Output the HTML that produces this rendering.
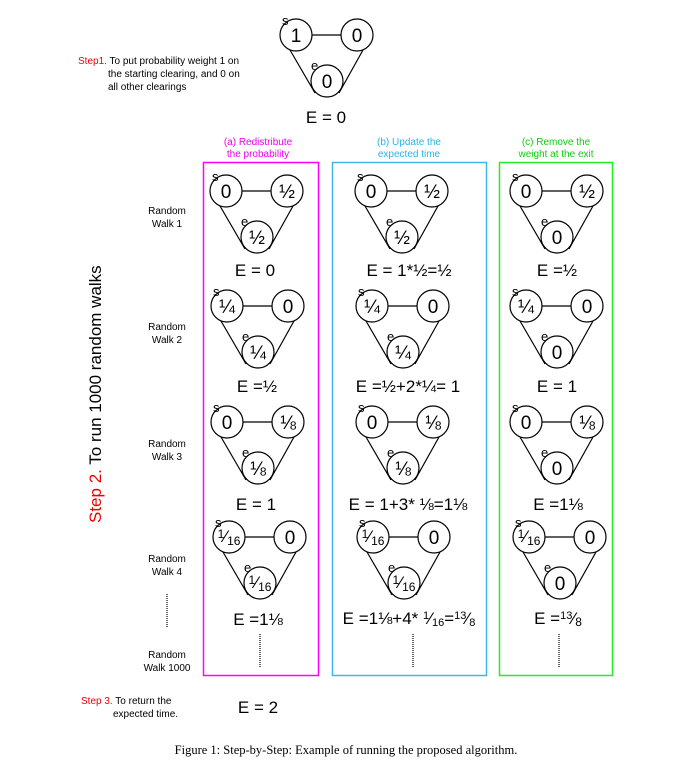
<!DOCTYPE html>
<html><head><meta charset="utf-8"><style>
html,body{margin:0;padding:0;background:#fff;}
svg{display:block;font-family:"Liberation Sans","DejaVu Sans",sans-serif;}
.n{fill:#fff;stroke:#000;stroke-width:1.2}
.l{stroke:#000;stroke-width:1.2;fill:none}
.v{font-size:19px;text-anchor:middle}
.lab{font-size:13px}
.E{font-size:17px;text-anchor:middle}
.s{font-size:10px}
</style></head><body>
<svg width="698" height="773" viewBox="0 0 698 773" xmlns="http://www.w3.org/2000/svg">
<defs>
<g id="g">
<line class="l" x1="16" y1="0" x2="45" y2="0"/>
<line class="l" x1="-6" y1="15" x2="19" y2="58"/>
<line class="l" x1="67" y1="15" x2="43" y2="58"/>
<circle class="n" cx="0" cy="0" r="16"/>
<circle class="n" cx="61" cy="0" r="16"/>
<circle class="n" cx="31" cy="46" r="16"/>
<text class="lab" x="-14" y="-10">s</text>
<text class="lab" x="15" y="35">e</text>
</g>
</defs>

<!-- Step 1 -->
<text class="s" x="78" y="64"><tspan fill="#e00">Step1.</tspan> To put probability weight 1 on</text>
<text class="s" x="108" y="77">the starting clearing, and 0 on</text>
<text class="s" x="108" y="90">all other clearings</text>
<g transform="translate(296,35)"><use href="#g"/>
<text class="v" x="0" y="7">1</text><text class="v" x="61" y="7">0</text><text class="v" x="31" y="53">0</text></g>
<text class="E" x="326" y="123">E = 0</text>

<!-- headers -->
<text class="s" fill="#e0e" text-anchor="middle" x="258" y="145">(a) Redistribute</text>
<text class="s" fill="#e0e" text-anchor="middle" x="258" y="157">the probability</text>
<text class="s" fill="#29b5e8" text-anchor="middle" x="409" y="145">(b) Update the</text>
<text class="s" fill="#29b5e8" text-anchor="middle" x="409" y="157">expected time</text>
<text class="s" fill="#1c1" text-anchor="middle" x="556" y="145">(c) Remove the</text>
<text class="s" fill="#1c1" text-anchor="middle" x="556" y="157">weight at the exit</text>

<rect x="203.5" y="162.5" width="115" height="513" fill="none" stroke="#f0f" stroke-width="1.5"/>
<rect x="332.5" y="162.5" width="154" height="513" fill="none" stroke="#3bb9ec" stroke-width="1.5"/>
<rect x="499.5" y="162.5" width="113" height="513" fill="none" stroke="#2e2" stroke-width="1.5"/>

<!-- Step 2 vertical -->
<text x="101" y="523" transform="rotate(-90 101 523)" font-size="17"><tspan fill="#e00">Step 2.</tspan> To run 1000 random walks</text>

<g class="s" text-anchor="middle">
<text x="167" y="214">Random</text><text x="167" y="227">Walk 1</text>
<text x="167" y="330">Random</text><text x="167" y="343">Walk 2</text>
<text x="167" y="447">Random</text><text x="167" y="460">Walk 3</text>
<text x="167" y="562">Random</text><text x="167" y="575">Walk 4</text>
<text x="167" y="658">Random</text><text x="167" y="671">Walk 1000</text>
</g>
<line x1="167" y1="594" x2="167" y2="628" stroke="#000" stroke-width="1.2" stroke-dasharray="1 1"/>

<!-- Walk 1 -->
<g transform="translate(226,191)"><use href="#g"/><text class="v" x="0" y="7">0</text><text class="v" x="61" y="7">½</text><text class="v" x="31" y="53">½</text></g>
<g transform="translate(371,191)"><use href="#g"/><text class="v" x="0" y="7">0</text><text class="v" x="61" y="7">½</text><text class="v" x="31" y="53">½</text></g>
<g transform="translate(526,191)"><use href="#g"/><text class="v" x="0" y="7">0</text><text class="v" x="61" y="7">½</text><text class="v" x="31" y="53">0</text></g>
<text class="E" x="255" y="276">E = 0</text>
<text class="E" x="409" y="276">E = 1*½=½</text>
<text class="E" x="557" y="276">E =½</text>

<!-- Walk 2 -->
<g transform="translate(227,306)"><use href="#g"/><text class="v" x="0" y="7">¼</text><text class="v" x="61" y="7">0</text><text class="v" x="31" y="53">¼</text></g>
<g transform="translate(372,306)"><use href="#g"/><text class="v" x="0" y="7">¼</text><text class="v" x="61" y="7">0</text><text class="v" x="31" y="53">¼</text></g>
<g transform="translate(526,306)"><use href="#g"/><text class="v" x="0" y="7">¼</text><text class="v" x="61" y="7">0</text><text class="v" x="31" y="53">0</text></g>
<text class="E" x="257" y="392">E =½</text>
<text class="E" x="408" y="392">E =½+2*¼= 1</text>
<text class="E" x="557" y="392">E = 1</text>

<!-- Walk 3 -->
<g transform="translate(227,422)"><use href="#g"/><text class="v" x="0" y="7">0</text><text class="v" x="61" y="7">⅛</text><text class="v" x="31" y="53">⅛</text></g>
<g transform="translate(372,422)"><use href="#g"/><text class="v" x="0" y="7">0</text><text class="v" x="61" y="7">⅛</text><text class="v" x="31" y="53">⅛</text></g>
<g transform="translate(526,422)"><use href="#g"/><text class="v" x="0" y="7">0</text><text class="v" x="61" y="7">⅛</text><text class="v" x="31" y="53">0</text></g>
<text class="E" x="256" y="510">E = 1</text>
<text class="E" x="408" y="510">E = 1+3* ⅛=1⅛</text>
<text class="E" x="558" y="510">E =1⅛</text>

<!-- Walk 4 -->
<g transform="translate(229,537)"><use href="#g"/>
<text class="v" x="0" y="5"><tspan font-size="12" dy="-4">1</tspan><tspan font-size="17" dy="4">⁄</tspan><tspan font-size="12" dy="3">16</tspan></text>
<text class="v" x="61" y="7">0</text>
<text class="v" x="31" y="51"><tspan font-size="12" dy="-4">1</tspan><tspan font-size="17" dy="4">⁄</tspan><tspan font-size="12" dy="3">16</tspan></text></g>
<g transform="translate(373,537)"><use href="#g"/>
<text class="v" x="0" y="5"><tspan font-size="12" dy="-4">1</tspan><tspan font-size="17" dy="4">⁄</tspan><tspan font-size="12" dy="3">16</tspan></text>
<text class="v" x="61" y="7">0</text>
<text class="v" x="31" y="51"><tspan font-size="12" dy="-4">1</tspan><tspan font-size="17" dy="4">⁄</tspan><tspan font-size="12" dy="3">16</tspan></text></g>
<g transform="translate(529,537)"><use href="#g"/>
<text class="v" x="0" y="5"><tspan font-size="12" dy="-4">1</tspan><tspan font-size="17" dy="4">⁄</tspan><tspan font-size="12" dy="3">16</tspan></text>
<text class="v" x="61" y="7">0</text><text class="v" x="31" y="53">0</text></g>
<text class="E" x="258" y="625">E =1⅛</text>
<text class="E" x="409" y="624" font-size="17">E =1⅛+4* <tspan font-size="11" dy="-5">1</tspan><tspan dy="5">⁄</tspan><tspan font-size="11" dy="2">16</tspan><tspan dy="-2">=</tspan><tspan font-size="11" dy="-5">13</tspan><tspan dy="5">⁄</tspan><tspan font-size="11" dy="2">8</tspan></text>
<text class="E" x="558" y="624">E =<tspan font-size="11" dy="-5">13</tspan><tspan dy="5">⁄</tspan><tspan font-size="12" dy="2">8</tspan></text>

<line x1="260" y1="634" x2="260" y2="668" stroke="#000" stroke-width="1.2" stroke-dasharray="1 1"/>
<line x1="413" y1="634" x2="413" y2="668" stroke="#000" stroke-width="1.2" stroke-dasharray="1 1"/>
<line x1="559" y1="634" x2="559" y2="668" stroke="#000" stroke-width="1.2" stroke-dasharray="1 1"/>

<!-- Step 3 -->
<text class="s" x="81" y="704"><tspan fill="#e00">Step 3.</tspan> To return the</text>
<text class="s" x="113" y="717">expected time.</text>
<text class="E" x="258" y="713">E = 2</text>

<text x="346" y="754" text-anchor="middle" font-family="'Liberation Serif',serif" font-size="12.5">Figure 1: Step-by-Step: Example of running the proposed algorithm.</text>
</svg>
</body></html>
